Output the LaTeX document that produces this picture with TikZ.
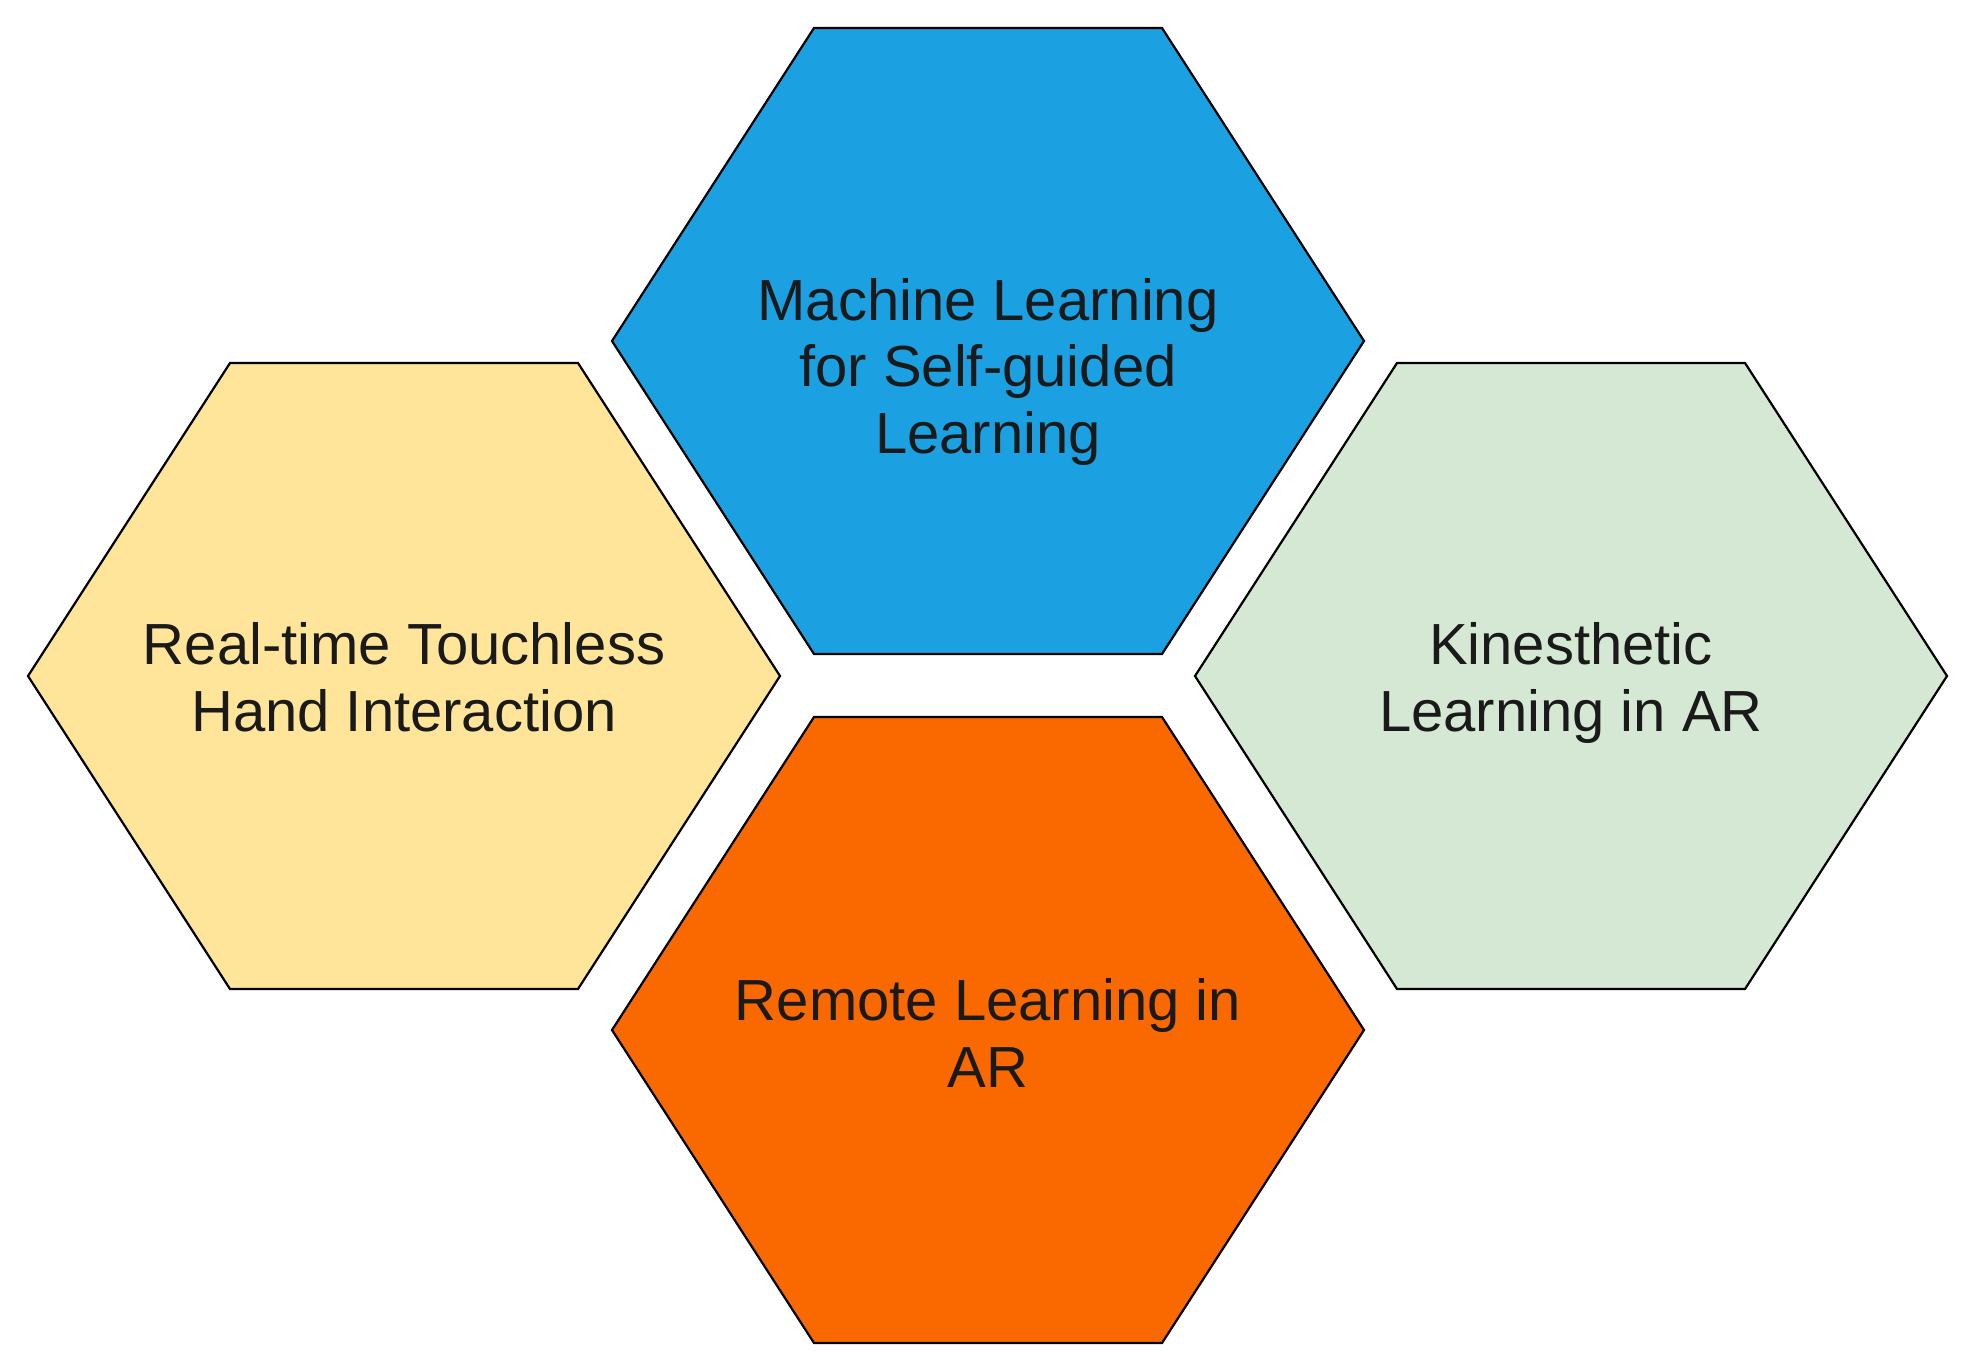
\documentclass[tikz,border=0pt]{standalone}
\usepackage{fontspec}
\setmainfont{Liberation Sans}
\definecolor{hexblue}{HTML}{1BA1E2}
\definecolor{hexorange}{HTML}{FA6800}
\definecolor{hexyellow}{HTML}{FFE599}
\definecolor{hexgreen}{HTML}{D5E8D4}
\definecolor{txtcol}{HTML}{1A1A1A}
\tikzset{
  hexa/.style={draw=black, line width=1.1pt, line join=miter},
  hexlabel/.style={anchor=base, align=center, inner sep=0pt, text=txtcol,
    font=\fontsize{29}{33.25}\selectfont}
}
\newcommand\drawhexa[4]{% name, cx, cy, colour
  \filldraw[hexa, fill=#4] ({#2-376},#3) -- ({#2-174},{#3-313}) -- ({#2+174},{#3-313})
    -- ({#2+376},#3) -- ({#2+174},{#3+313}) -- ({#2-174},{#3+313}) -- cycle;
  \coordinate (#1) at (#2,#3);}
\begin{document}
\begin{tikzpicture}[x=0.5pt,y=-0.5pt]
\useasboundingbox[fill=white] (0,0) rectangle (1980,1371);
\drawhexa{top}{988}{341}{hexblue}
\drawhexa{left}{404}{676}{hexyellow}
\drawhexa{right}{1571}{676}{hexgreen}
\drawhexa{bottom}{988}{1030}{hexorange}
% anchor=base is the baseline of the last line
\node[hexlabel] (toptext) at (988,453) {Machine Learning\\for Self-guided\\Learning};
\node[hexlabel] (lefttext) at (404,731) {Real-time Touchless\\Hand Interaction};
\node[hexlabel] (righttext) at (1571,731) {Kinesthetic\\Learning in AR};
\node[hexlabel] (bottomtext) at (988,1087) {Remote Learning in\\AR};
\end{tikzpicture}
\end{document}
